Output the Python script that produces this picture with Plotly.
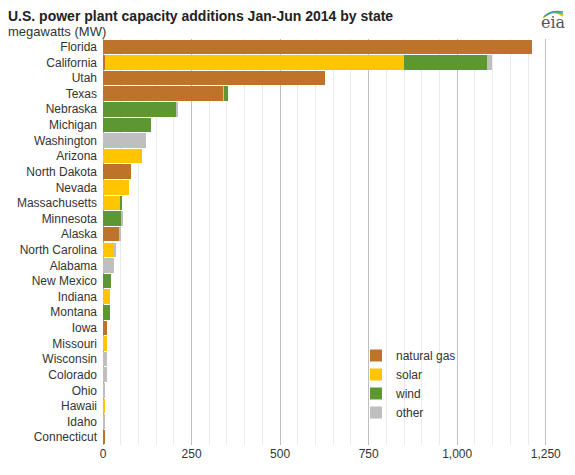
import plotly.graph_objects as go

states = ["Florida", "California", "Utah", "Texas", "Nebraska", "Michigan",
          "Washington", "Arizona", "North Dakota", "Nevada", "Massachusetts",
          "Minnesota", "Alaska", "North Carolina", "Alabama", "New Mexico",
          "Indiana", "Montana", "Iowa", "Missouri", "Wisconsin", "Colorado",
          "Ohio", "Hawaii", "Idaho", "Connecticut"]

natural_gas = [1212, 7, 627, 339, 0, 0, 0, 0, 80, 0, 0, 0, 46, 0, 0, 0,
               0, 0, 10, 0, 0, 0, 0, 0, 0, 4]
solar = [0, 844, 0, 3, 0, 0, 0, 111, 0, 74, 49, 0, 0, 33, 0, 0,
         21, 0, 0, 11, 0, 0, 0, 7, 0, 0]
wind = [0, 232, 0, 11, 207, 136, 0, 0, 0, 0, 2, 52, 0, 0, 0, 23,
        0, 21, 0, 0, 0, 0, 0, 0, 0, 0]
other = [0, 14, 0, 0, 5, 0, 122, 0, 0, 0, 0, 2, 3, 1.5, 32, 0,
         0, 0, 0, 0, 10, 10, 7, 0, 3, 0]

x_ticks = [0, 250, 500, 750, 1000, 1250]

series = [("natural gas", natural_gas, "#BD732A"),
          ("solar", solar, "#FFC500"),
          ("wind", wind, "#5D9732"),
          ("other", other, "#BFBFBF")]

font = "Liberation Sans, Arial, sans-serif"

# the page body has an 8px margin, so the figure is drawn 8px smaller
# and every position below is given in page pixels
OFF = 8
FW, FH = 575 - OFF, 475 - OFF
L, R, T, B = 103, 550, 39, 445      # plot area, page pixels
W, H = R - L, B - T


def px(x):
    return (x - L) / W


def py(y):
    return (B - y) / H


fig = go.Figure()
for name, vals, col in series:
    fig.add_trace(go.Bar(y=states, x=vals, name=name, orientation="h",
                         marker=dict(color=col, line=dict(width=0))))

fig.update_layout(
    width=FW, height=FH,
    barmode="stack", bargap=0.07,
    margin=dict(l=L - OFF, r=575 - R, t=T - OFF, b=475 - B),
    plot_bgcolor="white", paper_bgcolor="white",
    font=dict(family=font, size=12, color="#333333"),
    showlegend=True,
    legend=dict(x=px(356), y=py(341), xanchor="left", yanchor="top",
                traceorder="normal", bgcolor="rgba(255,255,255,0)",
                font=dict(size=12), itemwidth=30, tracegroupgap=0),
    xaxis=dict(range=[0, 1262], tickvals=x_ticks, tickformat=",",
               showgrid=True, gridcolor="#BFBFBF", gridwidth=1,
               minor=dict(dtick=50, showgrid=True, gridcolor="#EBEBEB"),
               zeroline=True, zerolinecolor="#A6A6A6", zerolinewidth=1,
               ticks="", tickfont=dict(size=12), automargin=False),
    yaxis=dict(autorange="reversed", ticks="", ticklabelstandoff=5,
               tickfont=dict(size=12), showgrid=False, automargin=False),
)

# header text (can't go above the page margin, so it sits a bit lower)
fig.add_annotation(text="<b>U.S. power plant capacity additions Jan-Jun 2014 by state</b>",
                   xref="paper", yref="paper", x=px(6), y=py(6),
                   xanchor="left", yanchor="top", showarrow=False,
                   font=dict(size=14, color="#222222"))
fig.add_annotation(text="megawatts (MW)",
                   xref="paper", yref="paper", x=px(6), y=py(22),
                   xanchor="left", yanchor="top", showarrow=False,
                   font=dict(size=13, color="#333333"))

# eia logo, roughly
fig.add_annotation(text="eia", xref="paper", yref="paper",
                   x=px(553), y=py(11),
                   xanchor="center", yanchor="top", showarrow=False,
                   font=dict(family="DejaVu Serif, serif", size=16, color="#555555"))
for i, col in enumerate(["#F2C500", "#7DB540", "#2E9BD6"]):
    x0, y0 = px(543 + i), py(18 - i)
    xc, yc = px(552), py(8 + i)
    x1, y1 = px(563), py(16 - i * 2)
    fig.add_shape(type="path", xref="paper", yref="paper",
                  path=f"M {x0},{y0} Q {xc},{yc} {x1},{y1}",
                  line=dict(color=col, width=1.6))

fig.write_html("out.html")
